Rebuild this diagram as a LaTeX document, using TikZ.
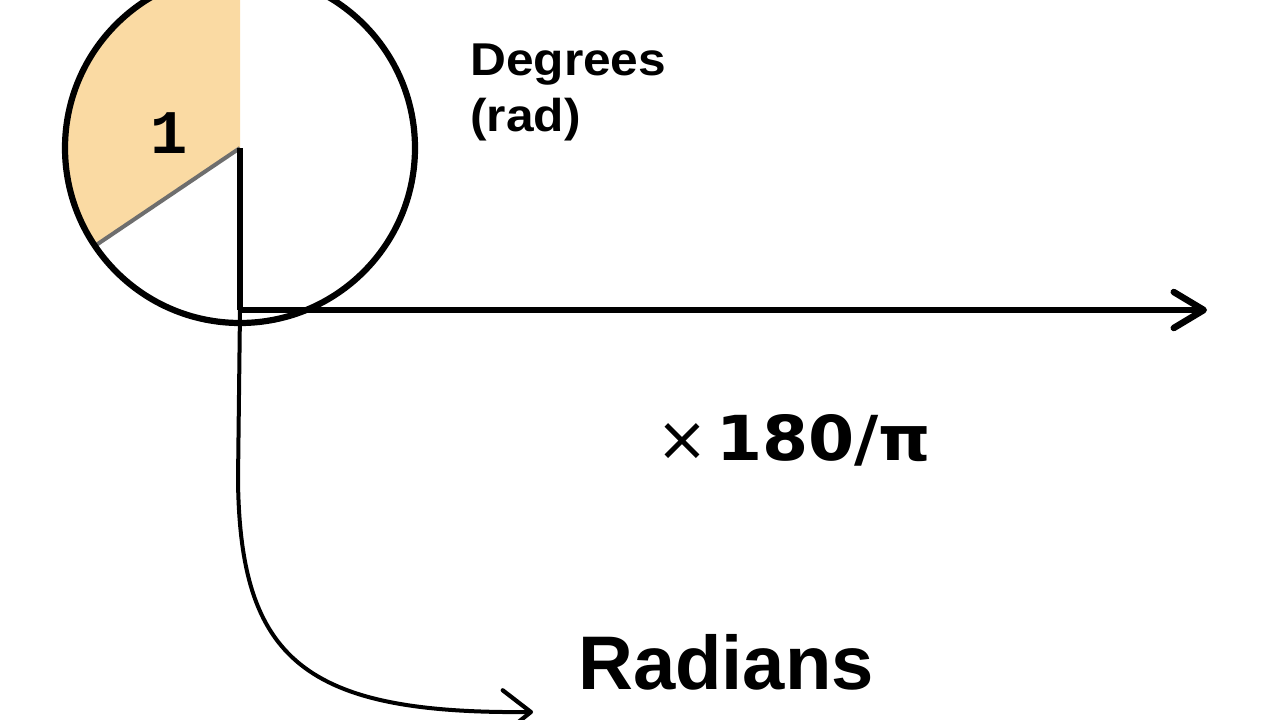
\documentclass[tikz,border=0pt]{standalone}
\usepackage{fontspec}
\setmainfont{Liberation Sans}
\newfontfamily\monofnt{Liberation Mono}
\newfontfamily\dvfnt{DejaVu Sans}
\usetikzlibrary{arrows.meta}
\definecolor{sector}{HTML}{FADAA3}
\definecolor{radline}{HTML}{6E6E6E}
\tikzset{
  mainline/.style={line width=6.2pt, line join=round, draw=black},
  thinline/.style={line width=4pt, draw=black},
  barbtip/.style={-{Straight Barb[length=30pt,width=36pt,line width=6.5pt,round]}},
  lbl/.style={inner sep=0pt, anchor=base west}
}
\begin{document}
\begin{tikzpicture}[x=1pt,y=-1pt]
\useasboundingbox (0,0) rectangle (1280,720);
\fill[white] (0,0) rectangle (1280,720);
\begin{scope}
\clip (0,0) rectangle (1280,720);
% sector
\coordinate (O) at (240,148);
\fill[sector] (O) -- ++(0,-175) arc[start angle=-90, end angle=-214, radius=175] -- cycle;
% radius line
\draw[line width=4pt, draw=radline] (O) -- ++(-214:175);
% circle
\draw[mainline] (O) circle[radius=175];
\end{scope}
% vertical line and horizontal arrow
\coordinate (corner) at (240,310);
\coordinate (tipR) at (1207,310);
\coordinate (bend) at (238,480);
\coordinate (tipB) at (533,712);
\draw[mainline] (O) -- (corner);
\draw[mainline, barbtip] (corner) -- (tipR);
% curved arrow down
\draw[thinline, -{Straight Barb[length=28pt,width=44pt,line width=4.2pt,round]}] (corner) -- (bend) .. controls (240,660) and (305,714) .. (tipB);
% labels
\node[font=\monofnt\bfseries\fontsize{62}{62}\selectfont, inner sep=0pt] (one) at (169,133) {1};
\node[lbl, font=\bfseries\fontsize{46}{46}\selectfont] (deg) at (470,75) {\scalebox{1.08}[1]{Degrees}};
\node[lbl, font=\bfseries\fontsize{46}{46}\selectfont] (radsub) at (470,131) {\scalebox{1.08}[1]{(rad)}};
\node[lbl, font=\dvfnt\fontsize{62}{62}\selectfont] (conv) at (656,460) {×\hspace{8pt}\scalebox{1.07}[1]{\bfseries 180/π}};
\node[lbl, font=\bfseries\fontsize{76}{76}\selectfont] (rad) at (578,689) {Radians};
\end{tikzpicture}
\end{document}
